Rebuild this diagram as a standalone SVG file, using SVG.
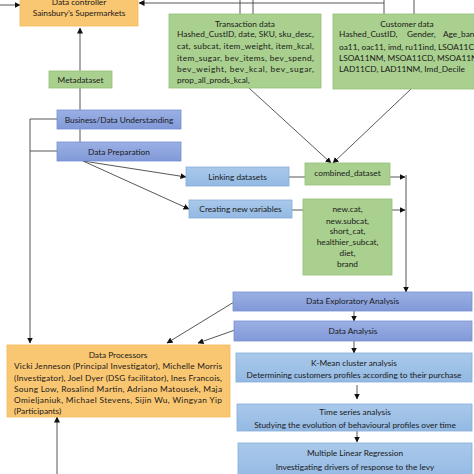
<svg xmlns="http://www.w3.org/2000/svg" width="474" height="474" viewBox="0 0 474 474">
<defs>
<marker id="ah" markerWidth="6" markerHeight="6" refX="5.5" refY="3" orient="auto" markerUnits="userSpaceOnUse">
<path d="M0,0 L6,3 L0,6 Z" fill="#111"/>
</marker>
<linearGradient id="peri" x1="0" y1="0" x2="0" y2="1">
<stop offset="0" stop-color="#9AB0E4"/>
<stop offset="1" stop-color="#8199D8"/>
</linearGradient>
<linearGradient id="lblue" x1="0" y1="0" x2="0" y2="1">
<stop offset="0" stop-color="#A9C9EA"/>
<stop offset="1" stop-color="#93B9E3"/>
</linearGradient>
<style>
text{font-family:Lato,"Open Sans","Liberation Sans",sans-serif;font-size:8.3px;fill:#1a1a1a}
.c{text-anchor:middle}
.or{fill:#F9C671;stroke:#F2B85A;stroke-width:0.8}
.gr{fill:#A9D08E;stroke:#93BF77;stroke-width:0.8}
.pe{fill:url(#peri);stroke:#7990CF;stroke-width:0.8}
.lb{fill:url(#lblue);stroke:#86ACD9;stroke-width:0.8}
.ln{fill:none;stroke:#444;stroke-width:0.9}
.la{fill:none;stroke:#444;stroke-width:0.9;marker-end:url(#ah)}
</style>
</defs>
<rect width="474" height="474" fill="#fff"/>

<g id="connectors">
<line class="la" x1="0" y1="5" x2="20" y2="5"/>
<line class="ln" x1="240" y1="0" x2="240" y2="14"/>
<line class="ln" x1="253" y1="0" x2="253" y2="14"/>
<line class="ln" x1="384" y1="0" x2="384" y2="14"/>
<line class="ln" x1="414" y1="0" x2="414" y2="14"/>
<line class="la" x1="384" y1="3" x2="139" y2="3"/>
<line class="la" x1="80" y1="71" x2="80" y2="28"/>
<line class="ln" x1="80" y1="88" x2="80" y2="142"/>
<line class="ln" x1="30" y1="119" x2="57" y2="119"/>
<line class="ln" x1="30" y1="151" x2="57" y2="151"/>
<line class="la" x1="30" y1="119" x2="30" y2="343"/>
<line class="la" x1="57" y1="474" x2="57" y2="417"/>
<line class="la" x1="83" y1="161" x2="186" y2="177"/>
<line class="la" x1="83" y1="161" x2="189" y2="209"/>
<line class="la" x1="249" y1="88" x2="331" y2="163"/>
<line class="la" x1="411" y1="89" x2="333" y2="163"/>
<line class="ln" x1="289" y1="177" x2="305" y2="177"/>
<line class="ln" x1="292" y1="210" x2="303" y2="210"/>
<line class="la" x1="390" y1="177" x2="405" y2="177"/>
<line class="la" x1="392" y1="210" x2="405" y2="210"/>
<line class="la" x1="406" y1="175" x2="406" y2="292"/>
<line class="la" x1="234" y1="302" x2="167" y2="343"/>
<line class="la" x1="235" y1="330" x2="198" y2="343"/>
<line class="la" x1="354" y1="311" x2="354" y2="321"/>
<line class="la" x1="354" y1="341" x2="354" y2="353"/>
<line class="la" x1="357" y1="385" x2="357" y2="399"/>
<line class="la" x1="357" y1="431" x2="357" y2="442"/>
</g>

<g id="data-controller">
<rect class="or" x="20" y="-6" width="118" height="32"/>
<text class="c" x="79" y="5">Data controller</text>
<text class="c" x="79" y="16">Sainsbury’s Supermarkets</text>
</g>

<g id="transaction-data">
<rect class="gr" x="169" y="14" width="152" height="74"/>
<text class="c" x="245" y="27">Transaction data</text>
<text x="177" y="37" textLength="137" lengthAdjust="spacing">Hashed_CustID, date, SKU, sku_desc,</text>
<text x="177" y="49" textLength="137" lengthAdjust="spacing">cat, subcat, item_weight, item_kcal,</text>
<text x="177" y="61" textLength="137" lengthAdjust="spacing">item_sugar, bev_items, bev_spend,</text>
<text x="177" y="72" textLength="137" lengthAdjust="spacing">bev_weight, bev_kcal, bev_sugar,</text>
<text x="177" y="83">prop_all_prods_kcal,</text>
</g>

<g id="customer-data">
<rect class="gr" x="333" y="14" width="150" height="75"/>
<text class="c" x="407" y="27">Customer data</text>
<text x="339" y="37"><tspan x="339">Hashed_CustID,</tspan><tspan x="407">Gender,</tspan><tspan x="443">Age_band,</tspan></text>
<text x="339" y="50">oa11, oac11, imd, ru11ind, LSOA11CD,</text>
<text x="339" y="61">LSOA11NM, MSOA11CD, MSOA11NM,</text>
<text x="339" y="72">LAD11CD, LAD11NM, Imd_Decile</text>
</g>

<g id="metadataset">
<rect class="gr" x="49" y="71" width="63" height="17"/>
<text class="c" x="80.5" y="82.5">Metadataset</text>
</g>

<g id="business-understanding">
<rect class="pe" x="57" y="110" width="124" height="19"/>
<text class="c" x="119" y="122.5">Business/Data Understanding</text>
</g>

<g id="data-preparation">
<rect class="pe" x="57" y="142" width="124" height="19"/>
<text class="c" x="119" y="154.5">Data Preparation</text>
</g>

<g id="linking-datasets">
<rect class="lb" x="186" y="167" width="103" height="19"/>
<text class="c" x="237.5" y="179.5">Linking datasets</text>
</g>

<g id="creating-variables">
<rect class="lb" x="189" y="200" width="103" height="18"/>
<text class="c" x="240.5" y="212">Creating new variables</text>
</g>

<g id="combined-dataset">
<rect class="gr" x="305" y="163" width="85" height="22"/>
<text class="c" x="347.5" y="176">combined_dataset</text>
</g>

<g id="new-variables">
<rect class="gr" x="303" y="199" width="89" height="76"/>
<text class="c" x="347.5" y="212">new.cat,</text>
<text class="c" x="347.5" y="223.5">new.subcat,</text>
<text class="c" x="347.5" y="234">short_cat,</text>
<text class="c" x="347.5" y="244.5">healthier_subcat,</text>
<text class="c" x="347.5" y="255.5">diet,</text>
<text class="c" x="347.5" y="266.5">brand</text>
</g>

<g id="data-exploratory-analysis">
<rect class="pe" x="233" y="292" width="239" height="19"/>
<text class="c" x="352.5" y="304">Data Exploratory Analysis</text>
</g>

<g id="data-analysis">
<rect class="pe" x="234" y="321" width="238" height="20"/>
<text class="c" x="353" y="334">Data Analysis</text>
</g>

<g id="kmean">
<rect class="lb" x="236" y="353" width="236" height="29"/>
<text class="c" x="354" y="365.5">K-Mean cluster analysis</text>
<text class="c" x="354" y="377.5">Determining customers profiles according to their purchase</text>
</g>

<g id="time-series">
<rect class="lb" x="237" y="404" width="235" height="27"/>
<text class="c" x="355" y="415">Time series analysis</text>
<text class="c" x="355" y="427.5">Studying the evolution of behavioural profiles over time</text>
</g>

<g id="regression">
<rect class="lb" x="238" y="443" width="234" height="36"/>
<text class="c" x="355" y="456">Multiple Linear Regression</text>
<text class="c" x="355" y="469.5">Investigating drivers of response to the levy</text>
</g>

<g id="data-processors">
<rect class="or" x="7" y="345" width="223" height="72"/>
<text class="c" x="118" y="358">Data Processors</text>
<text x="14" y="369" textLength="208" lengthAdjust="spacing">Vicki Jenneson (Principal Investigator), Michelle Morris</text>
<text x="14" y="380.5" textLength="208" lengthAdjust="spacing">(Investigator), Joel Dyer (DSG facilitator), Ines Francois,</text>
<text x="14" y="391.5" textLength="208" lengthAdjust="spacing">Soung Low, Rosalind Martin, Adriano Matousek, Maja</text>
<text x="14" y="402.5" textLength="208" lengthAdjust="spacing">Omieljaniuk, Michael Stevens, Sijin Wu, Wingyan Yip</text>
<text x="14" y="413.5">(Participants)</text>
</g>
</svg>
